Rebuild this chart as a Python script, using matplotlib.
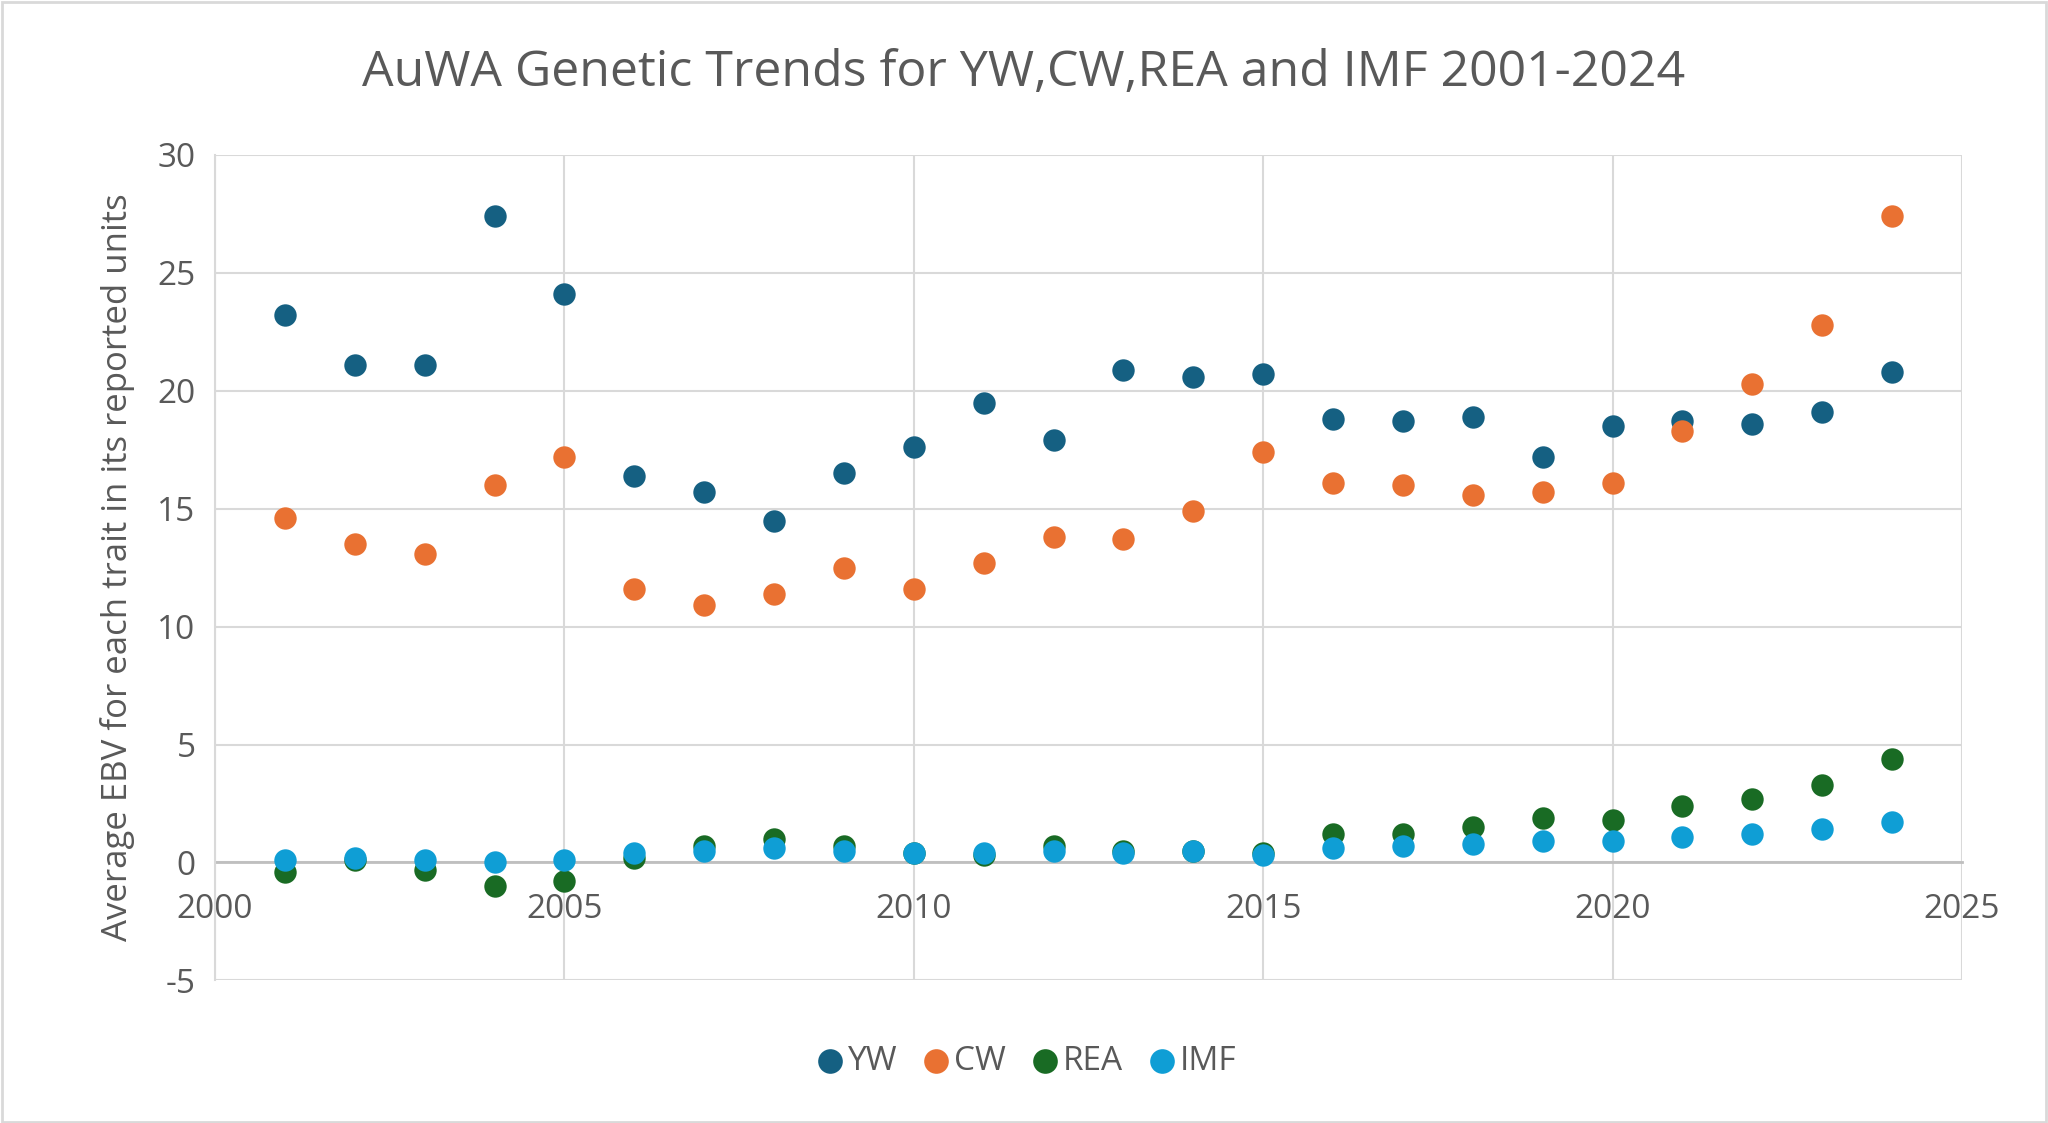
import matplotlib
matplotlib.use("Agg")
import matplotlib.pyplot as plt
from matplotlib.patches import Rectangle

years = list(range(2001, 2025))
yw = [23.2, 21.1, 21.1, 27.4, 24.1, 16.4, 15.7, 14.5, 16.5, 17.6, 19.5, 17.9,
      20.9, 20.6, 20.7, 18.8, 18.7, 18.9, 17.2, 18.5, 18.7, 18.6, 19.1, 20.8]
cw = [14.6, 13.5, 13.1, 16.0, 17.2, 11.6, 10.9, 11.4, 12.5, 11.6, 12.7, 13.8,
      13.7, 14.9, 17.4, 16.1, 16.0, 15.6, 15.7, 16.1, 18.3, 20.3, 22.8, 27.4]
rea = [-0.4, 0.1, -0.3, -1.0, -0.8, 0.2, 0.7, 1.0, 0.7, 0.4, 0.3, 0.7,
       0.5, 0.5, 0.4, 1.2, 1.2, 1.5, 1.9, 1.8, 2.4, 2.7, 3.3, 4.4]
imf = [0.1, 0.2, 0.1, 0.0, 0.1, 0.4, 0.5, 0.6, 0.5, 0.4, 0.4, 0.5,
       0.4, 0.5, 0.3, 0.6, 0.7, 0.8, 0.9, 0.9, 1.1, 1.2, 1.4, 1.7]
series_names = ["YW", "CW", "REA", "IMF"]
colors = ["#156082", "#E97132", "#196B24", "#0F9ED5"]
title = "AuWA Genetic Trends for YW,CW,REA and IMF 2001-2024"
ylabel = "Average EBV for each trait in its reported units"
xticks = [2000, 2005, 2010, 2015, 2020, 2025]
yticks = [-5, 0, 5, 10, 15, 20, 25, 30]

plt.rcParams['font.family'] = ['Open Sans', 'DejaVu Sans']
plt.rcParams['axes.unicode_minus'] = False
txt = "#595959"

fig = plt.figure(figsize=(20.48, 11.23), dpi=100)
ax = fig.add_axes([0.105, 0.127, 0.853, 0.735])

for name, vals, c in zip(series_names, [yw, cw, rea, imf], colors):
    ax.scatter(years, vals, s=260, color=c, label=name, zorder=3, linewidths=0)

ax.set_xlim(2000, 2025)
ax.set_ylim(-5, 30)
ax.set_xticks(xticks)
ax.set_yticks(yticks)
ax.grid(True, color="#D9D9D9", linewidth=1.5, zorder=0)
ax.set_axisbelow(True)
for s in ["top", "right"]:
    ax.spines[s].set_visible(False)
ax.spines['left'].set_color("#D9D9D9")
ax.spines['left'].set_linewidth(1.5)
ax.spines['bottom'].set_position(('data', 0))
ax.spines['bottom'].set_color("#BFBFBF")
ax.spines['bottom'].set_linewidth(2)
ax.spines['bottom'].set_zorder(2)
ax.tick_params(axis='both', length=0, labelsize=24, labelcolor=txt)
ax.tick_params(axis='x', pad=22)
ax.tick_params(axis='y', pad=14)
ax.set_ylabel(ylabel, fontsize=25, color=txt, labelpad=16)

fig.text(0.5, 0.935, title, ha='center', va='center', fontsize=36, color=txt)

leg = fig.legend(loc='center', bbox_to_anchor=(0.5, 0.055), ncol=4, frameon=False,
                 fontsize=24, handletextpad=0.0, columnspacing=0.6, markerscale=1.1,
                 labelcolor=txt, handlelength=1.1)

fig.patches.append(Rectangle((0.001, 0.001), 0.998, 0.997, transform=fig.transFigure,
                             fill=False, edgecolor="#D9D9D9", linewidth=2))

fig.savefig("out.png", dpi=100)
